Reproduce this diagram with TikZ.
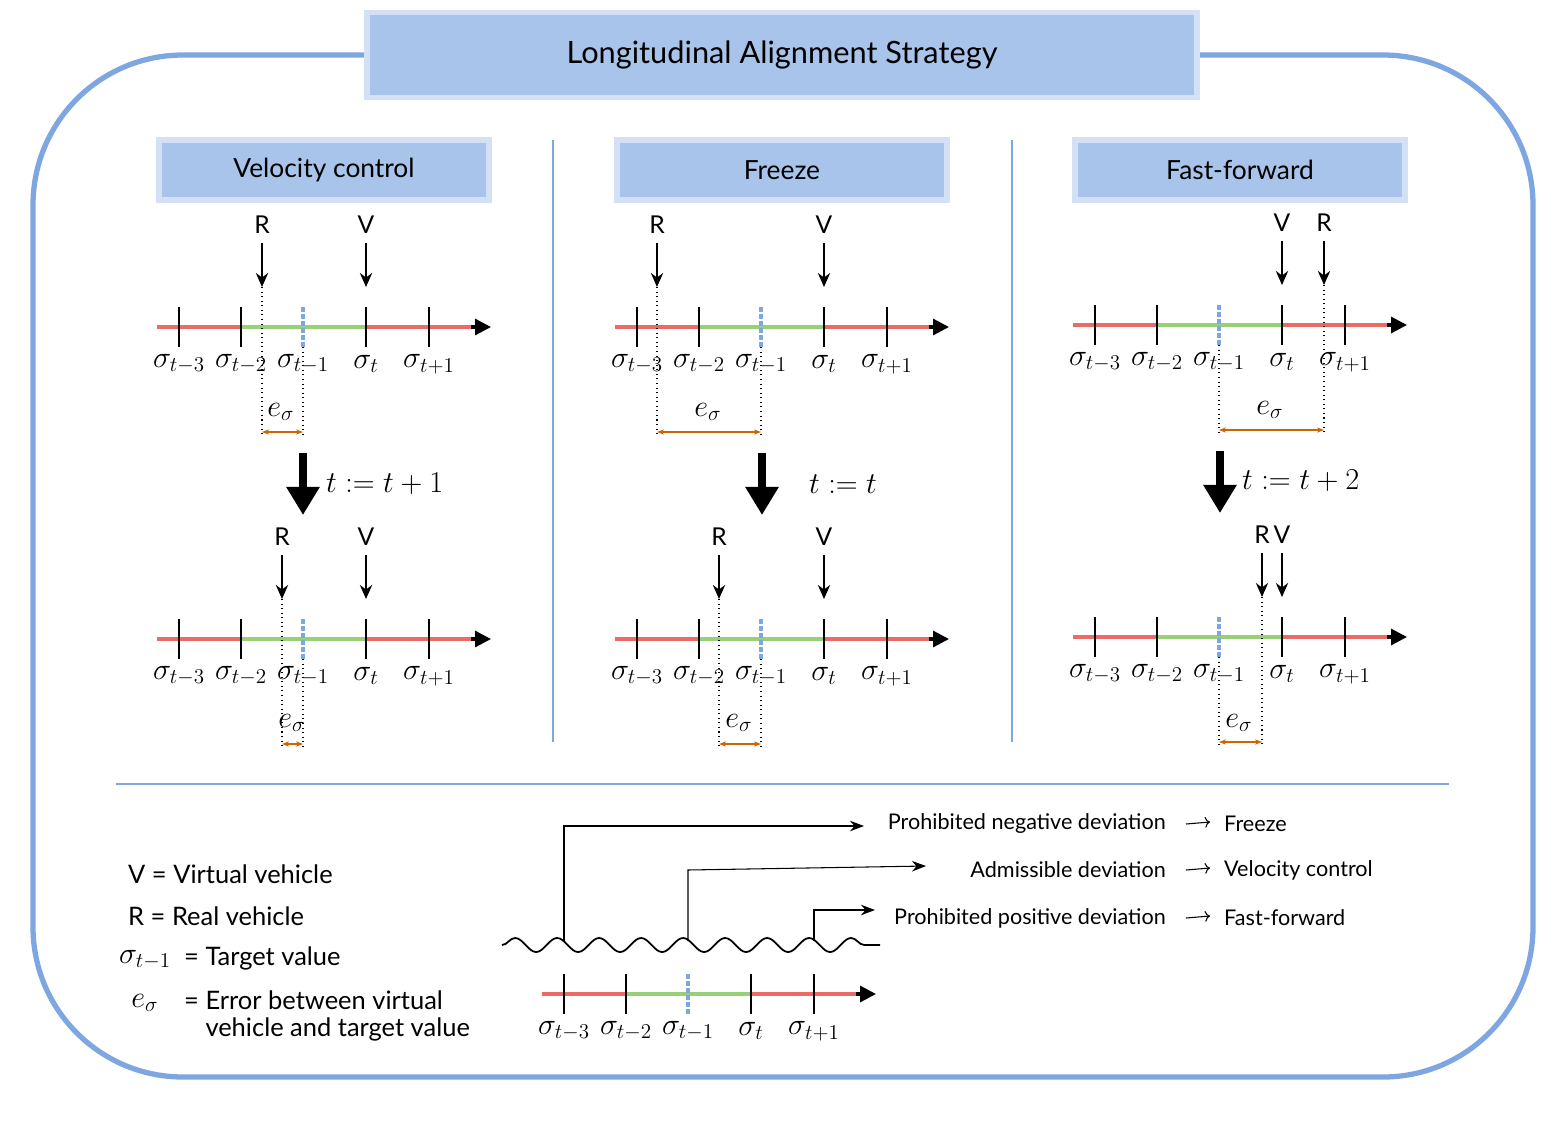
\documentclass[tikz,border=0pt]{standalone}
\usepackage{fontspec}
\setmainfont{Lato}
\usetikzlibrary{arrows.meta,decorations.pathmorphing}
\definecolor{bl}{HTML}{7EA6E0}
\definecolor{bfill}{HTML}{A9C4EB}
\definecolor{bedge}{HTML}{D4E1F5}
\definecolor{rd}{HTML}{EA6B66}
\definecolor{gr}{HTML}{97D077}
\definecolor{og}{HTML}{CC6600}
\tikzset{
 ax/.style={line width=1.8pt},
 tk/.style={line width=0.9pt},
 lab/.style={font=\fontsize{17}{19}\selectfont},
 rv/.style={font=\fontsize{14}{16}\selectfont},
 dn/.style={-{Stealth[length=8pt,width=7pt]},line width=1pt},
 big/.style={-{Triangle[length=16pt,width=18pt]},line width=4pt},
 dots/.style={dotted,line width=0.6pt},
 err/.style={{Stealth[length=4pt]}-{Stealth[length=4pt]},og,line width=0.8pt},
 hdr/.style={draw=bedge,line width=3pt,fill=bfill,font=\fontsize{15}{17}\selectfont},
 leg/.style={font=\fontsize{14.5}{17}\selectfont,anchor=west},
 dev/.style={font=\fontsize{12.3}{14}\selectfont}
}
\newcommand\tline[3]{% x0, y, prefix
 \begin{scope}[shift={(#1,#2)}]
 \draw[ax,rd] (0,0) -- (84,0);
 \draw[ax,gr] (84,0) -- (209,0);
 \draw[ax,rd] (209,0) -- (318,0);
 \draw[ax,-{Triangle[length=9pt,width=9pt]}] (314,0) -- (334,0);
 \foreach \x/\n/\s in {22/a/{t-3},84/b/{t-2},209/d/t,272/e/{t+1}}{
   \draw[tk] (\x,-20) -- (\x,20);
   \node[lab] (#3\n) at (\x,37) {$\sigma_{\s}$};}
 \draw[bl,dashed,line width=2pt,dash pattern=on 3pt off 1pt] (146,-20) -- (146,20);
 \node[lab] (#3c) at (146,37) {$\sigma_{t-1}$};
 \end{scope}}
\newcommand\marker[4]{% x, ytext, text, name
 \node[rv] (#4) at (#1,#2) {#3};
 \draw[dn] (#1,#2+18) -- (#1,#2+62);}
\begin{document}
\begin{tikzpicture}[x=0.02cm,y=-0.02cm]
\useasboundingbox (0,0) rectangle (1566,1130);
\draw[bl,line width=3pt,rounded corners=3cm] (33,55) rectangle (1533,1077);
\node[hdr,minimum width=16.6cm,minimum height=1.7cm,font=\fontsize{17.5}{20}\selectfont] (title) at (782,55) {Longitudinal Alignment Strategy};
\node[hdr,minimum width=6.6cm,minimum height=1.2cm] (h1) at (324,170) {Velocity control};
\node[hdr,minimum width=6.6cm,minimum height=1.2cm] (h2) at (782,170) {Freeze};
\node[hdr,minimum width=6.6cm,minimum height=1.2cm] (h3) at (1240,170) {Fast-forward};
\draw[bl,line width=0.8pt] (553,140) -- (553,742);
\draw[bl,line width=0.8pt] (1012,140) -- (1012,742);
\draw[bl,line width=0.8pt] (116,784) -- (1449,784);
% panel 1
\tline{157}{327}{p}
\marker{262}{225}{R}{r1}\marker{366}{225}{V}{v1}
\draw[dots] (262,287) -- (262,435); \draw[dots] (303,347) -- (303,435);
\node[lab] (e1) at (281,412) {$e_\sigma$};
\draw[err] (262,432) -- (303,432);
\draw[big] (303,453) -- (303,515);
\node[lab,anchor=west] (s1) at (320,484) {$t := t+1$};
\tline{157}{639}{q}
\marker{282}{537}{R}{r2}\marker{366}{537}{V}{v2}
\draw[dots] (282,599) -- (282,746); \draw[dots] (303,659) -- (303,746);
\node[lab] (e2) at (292,723) {$e_\sigma$};
\draw[err] (282,744) -- (303,744);
% panel 2
\tline{615}{327}{m}
\marker{657}{225}{R}{r3}\marker{824}{225}{V}{v3}
\draw[dots] (657,287) -- (657,435); \draw[dots] (761,347) -- (761,435);
\node[lab] (e3) at (708,412) {$e_\sigma$};
\draw[err] (657,432) -- (761,432);
\draw[big] (762,453) -- (762,515);
\node[lab,anchor=west] (s2) at (803,484) {$t := t$};
\tline{615}{639}{n}
\marker{719}{537}{R}{r4}\marker{824}{537}{V}{v4}
\draw[dots] (719,599) -- (719,746); \draw[dots] (761,659) -- (761,746);
\node[lab] (e4) at (739,723) {$e_\sigma$};
\draw[err] (719,744) -- (761,744);
% panel 3
\tline{1073}{325}{f}
\marker{1282}{223}{V}{v5}\marker{1324}{223}{R}{r5}
\draw[dots] (1219,345) -- (1219,433); \draw[dots] (1324,285) -- (1324,433);
\node[lab] (e5) at (1270,410) {$e_\sigma$};
\draw[err] (1219,430) -- (1324,430);
\draw[big] (1220,451) -- (1220,513);
\node[lab,anchor=west] (s3) at (1236,481) {$t := t+2$};
\tline{1073}{637}{g}
\node[rv] (r6) at (1262,535) {R};\node[rv] (v6) at (1282,535) {V};
\draw[dn] (1262,553) -- (1262,597);\draw[dn] (1282,553) -- (1282,597);
\draw[dots] (1219,657) -- (1219,744); \draw[dots] (1262,597) -- (1262,744);
\node[lab] (e6) at (1239,723) {$e_\sigma$};
\draw[err] (1219,742) -- (1262,742);
% legend
\node[leg] (l1) at (122,874) {V = Virtual vehicle};
\node[leg] (l2) at (122,916) {R = Real vehicle};
\node[lab] (l3s) at (145,960) {$\sigma_{t-1}$};
\node[leg] (l3) at (178,958) {= Target value};
\node[lab] (l4s) at (145,1003) {$e_\sigma$};
\node[leg,align=left,anchor=north west] (l4) at (178,985) {= Error between virtual\\[-2pt]\phantom{= }vehicle and target value};
\tline{542}{994}{z}
\draw[line width=1pt,decorate,decoration={snake,segment length=42*0.02cm,amplitude=4pt}] (502,945) -- (880,945);
\coordinate (w1) at (564,941);\coordinate (w2) at (688,941);\coordinate (w3) at (814,941);
\node[dev,anchor=east] (d1) at (1172,824) {Prohibited negative deviation};
\node[dev,anchor=east] (d2) at (1172,870) {Admissible deviation};
\node[dev,anchor=east] (d3) at (1172,918) {Prohibited positive deviation};
\node[dev,anchor=west] (o1) at (1218,824) {Freeze};
\node[dev,anchor=west] (o2) at (1218,870) {Velocity control};
\node[dev,anchor=west] (o3) at (1218,918) {Fast-forward};
\foreach \i in {1,2,3}{\draw[-{To},line width=0.6pt] (d\i.east)++(14,0) -- ++(24,-2);}
\draw[line width=0.6pt,-{Stealth[length=8pt]}] (w1) |- (864,826);
\draw[line width=0.6pt,-{Stealth[length=8pt]}] (w2) -- (688,870) -- (926,866);
\draw[line width=0.6pt,-{Stealth[length=8pt]}] (w3) |- (875,910);
\end{tikzpicture}
\end{document}
